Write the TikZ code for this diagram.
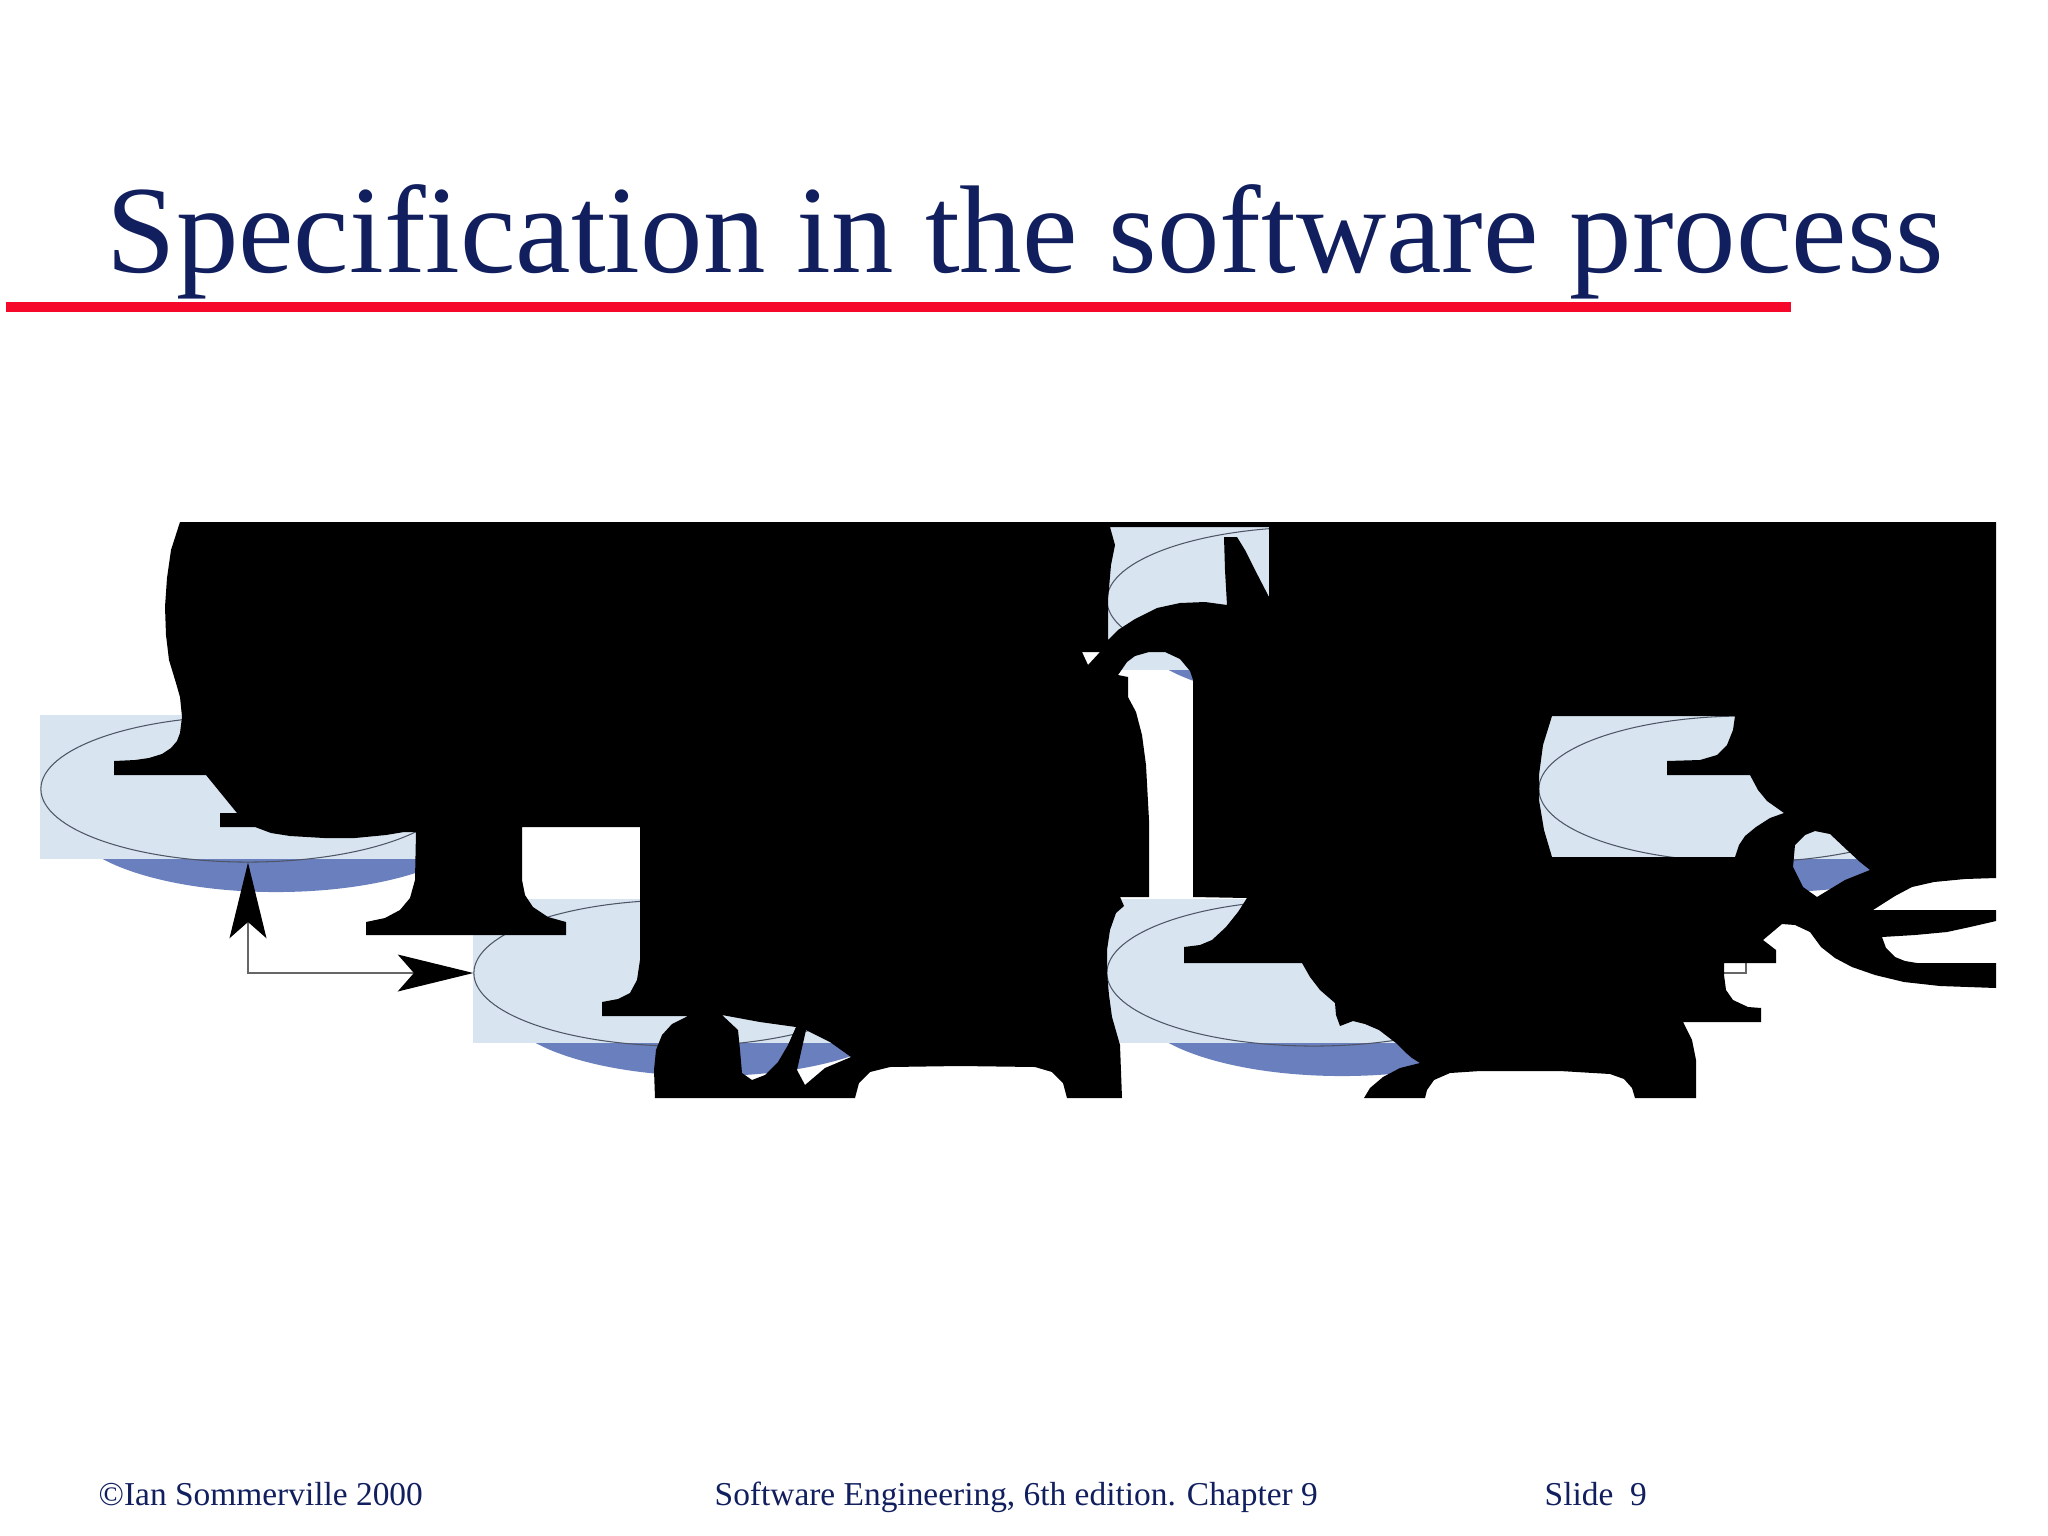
\documentclass[tikz,border=0pt]{standalone}
\usepackage{fontspec}
\setmainfont{Liberation Serif}
\usetikzlibrary{arrows.meta,shapes.geometric,backgrounds,calc}
\definecolor{navy}{HTML}{111F5E}
\definecolor{slidered}{HTML}{F5082A}
\definecolor{procfill}{HTML}{D8E5F1}
\definecolor{procshadow}{HTML}{6A7FBD}
\definecolor{linegray}{HTML}{4F5566}
\begin{document}
\begin{tikzpicture}[x=0.01cm,y=-0.01cm,
  proc/.style={ellipse, draw=linegray, line width=0.3pt, minimum width=4.14cm, minimum height=1.46cm, inner sep=0pt},
  conn/.style={draw=gray!80!black, line width=0.35pt, arrows={Stealth[length=21.5pt,width=10.5pt,inset=4.6pt,color=black]-Stealth[length=21.5pt,width=10.5pt,inset=4.6pt,color=black]}},
  blackout/.style={fill=black, even odd rule},
  titletext/.style={text=navy, inner sep=0pt, anchor=base west, font=\fontsize{35.5}{40}\selectfont},
  foottext/.style={text=navy, inner sep=0pt, anchor=base west, font=\fontsize{9.5}{11}\selectfont}
]
\useasboundingbox (0,0) rectangle (2048,1536);

% title and rule
\node[titletext] (title) at (106,272) {Specification in the software process};
\fill[slidered] (6,302) rectangle (1791,312);

% process ellipses
\node[proc] (A) at (248,789) {};
\node[proc] (C) at (1314,600) {};
\node[proc] (F) at (1746,789) {};
\node[proc] (D) at (681,973) {};
\node[proc] (E) at (1314,973) {};

\begin{scope}[on background layer]
  \fill[white] (0,0) rectangle (2048,1536);
  \foreach \n in {A,C,F,D,E}{
    \fill[procshadow] ($(\n)+(28,30)$) ellipse [x radius=2.07cm, y radius=0.73cm];
    \fill[procfill] (\n.west |- \n.north) rectangle ($(\n.east |- \n.south)+(0,-4)$);
  }
\end{scope}

% connectors
\draw[conn] (A.south) |- (D.west);
\draw[conn] (E.east) -| (F.south);

% overflowing black glyphs
\fill[blackout]
 (180,522) -- (1996,522) -- (1996,878)
 -- (1965,879) -- (1934,882) -- (1912,887) -- (1895,896) -- (1873,910)
 -- (1996,910) -- (1996,921)
 -- (1970,927) -- (1947,932) -- (1915,935) -- (1882,937)
 -- (1886,948) -- (1895,957) -- (1905,961) -- (1917,963)
 -- (1996,963) -- (1996,988)
 -- (1940,986) -- (1904,982) -- (1875,975) -- (1852,967) -- (1835,958) -- (1821,947) -- (1810,932)
 -- (1795,925) -- (1782,924) -- (1763,940) -- (1776,950) -- (1776,963) -- (1724,963) -- (1724,975)
 -- (1726,990) -- (1733,1000) -- (1748,1007) -- (1761,1008) -- (1761,1022) -- (1683,1022)
 -- (1692,1040) -- (1696,1060) -- (1696,1098)
 -- (1635,1098) -- (1632,1088) -- (1624,1079) -- (1610,1074) -- (1560,1071) -- (1480,1071)
 -- (1450,1073) -- (1434,1080) -- (1427,1090) -- (1425,1098)
 -- (1364,1098) -- (1370,1088) -- (1383,1077) -- (1400,1068) -- (1420,1063)
 -- (1412,1058) -- (1405,1052) -- (1396,1043) -- (1379,1030) -- (1365,1024) -- (1353,1021)
 -- (1340,1026) -- (1336,1015) -- (1335,1003) -- (1320,990) -- (1310,977) -- (1302,963)
 -- (1184,963) -- (1184,947) -- (1200,945) -- (1212,940) -- (1226,927) -- (1238,912) -- (1247,898)
 -- (1193,897) -- (1193,680) -- (1190,671) -- (1180,659) -- (1165,652) -- (1149,652) -- (1135,656)
 -- (1127,662) -- (1118,675) -- (1128,677) -- (1128,697) -- (1136,712) -- (1142,735) -- (1146,765)
 -- (1149,820) -- (1149,897)
 -- (1120,897) -- (1124,906) -- (1116,913) -- (1110,930) -- (1107,950) -- (1107,973) -- (1109,995)
 -- (1112,1017) -- (1120,1045) -- (1122,1098)
 -- (1067,1098) -- (1063,1083) -- (1052,1072) -- (1035,1067) -- (960,1066) -- (890,1067)
 -- (870,1072) -- (859,1083) -- (855,1098)
 -- (655,1098) -- (654,1070) -- (656,1050) -- (662,1035) -- (672,1024) -- (688,1016)
 -- (602,1016) -- (602,1002) -- (618,999) -- (630,993) -- (637,980) -- (640,960) -- (640,827)
 -- (522,827) -- (522,880) -- (525,895) -- (533,907) -- (548,917) -- (566,922) -- (566,935)
 -- (366,935) -- (366,922) -- (385,918) -- (400,910) -- (410,898) -- (415,880) -- (416,832)
 -- (404,832) -- (386,835) -- (355,838) -- (324,838) -- (290,836) -- (271,833) -- (255,827)
 -- (220,827) -- (220,813) -- (237,813) -- (206,775) -- (114,775) -- (114,761)
 -- (135,760) -- (149,758) -- (162,754) -- (171,748) -- (177,741) -- (180,733) -- (182,717)
 -- (180,697) -- (176,683) -- (169,660) -- (166,635) -- (165,607) -- (167,578) -- (171,550) -- cycle
 % hole over the top ellipse
 (1110,527) -- (1269,527) -- (1269,597) -- (1255,570) -- (1245,550) -- (1237,537) -- (1224,537)
 -- (1225,570) -- (1227,605) -- (1205,602) -- (1180,603) -- (1157,608) -- (1135,619) -- (1118,630)
 -- (1108,640) -- (1108,600) -- (1111,565) -- (1115,545) -- cycle
 (1082,652) -- (1100,652) -- (1088,665) -- cycle
 % hole over the right ellipse
 (1552,716) -- (1735,716) -- (1733,730) -- (1727,745) -- (1717,755) -- (1700,760) -- (1667,761)
 -- (1667,775) -- (1750,775) -- (1758,790) -- (1767,801) -- (1784,813) -- (1770,818) -- (1756,827)
 -- (1745,836) -- (1739,845) -- (1735,857) -- (1552,857) -- (1544,830) -- (1539,800) -- (1539,775)
 -- (1543,745) -- cycle
 (1793,867) -- (1795,845) -- (1805,835) -- (1815,831) -- (1830,834) -- (1847,850) -- (1860,862)
 -- (1870,870) -- (1845,880) -- (1817,897) -- (1803,887) -- cycle
 % small holes at the bottom
 (722,1015) -- (760,1022) -- (796,1027) -- (788,1045) -- (778,1062) -- (765,1075) -- (752,1080)
 -- (742,1073) -- (740,1050) -- (738,1030) -- cycle
 (806,1030) -- (830,1042) -- (851,1057) -- (825,1068) -- (805,1085) -- (797,1070) -- cycle;

% footer
\node[foottext] (copy) at (98,1505) {©Ian Sommerville 2000};
\node[foottext] (book) at (714,1505) {Software Engineering, 6th edition. Chapter 9};
\node[foottext] (slide) at (1544,1505) {Slide\ \ 9};
\end{tikzpicture}
\end{document}
